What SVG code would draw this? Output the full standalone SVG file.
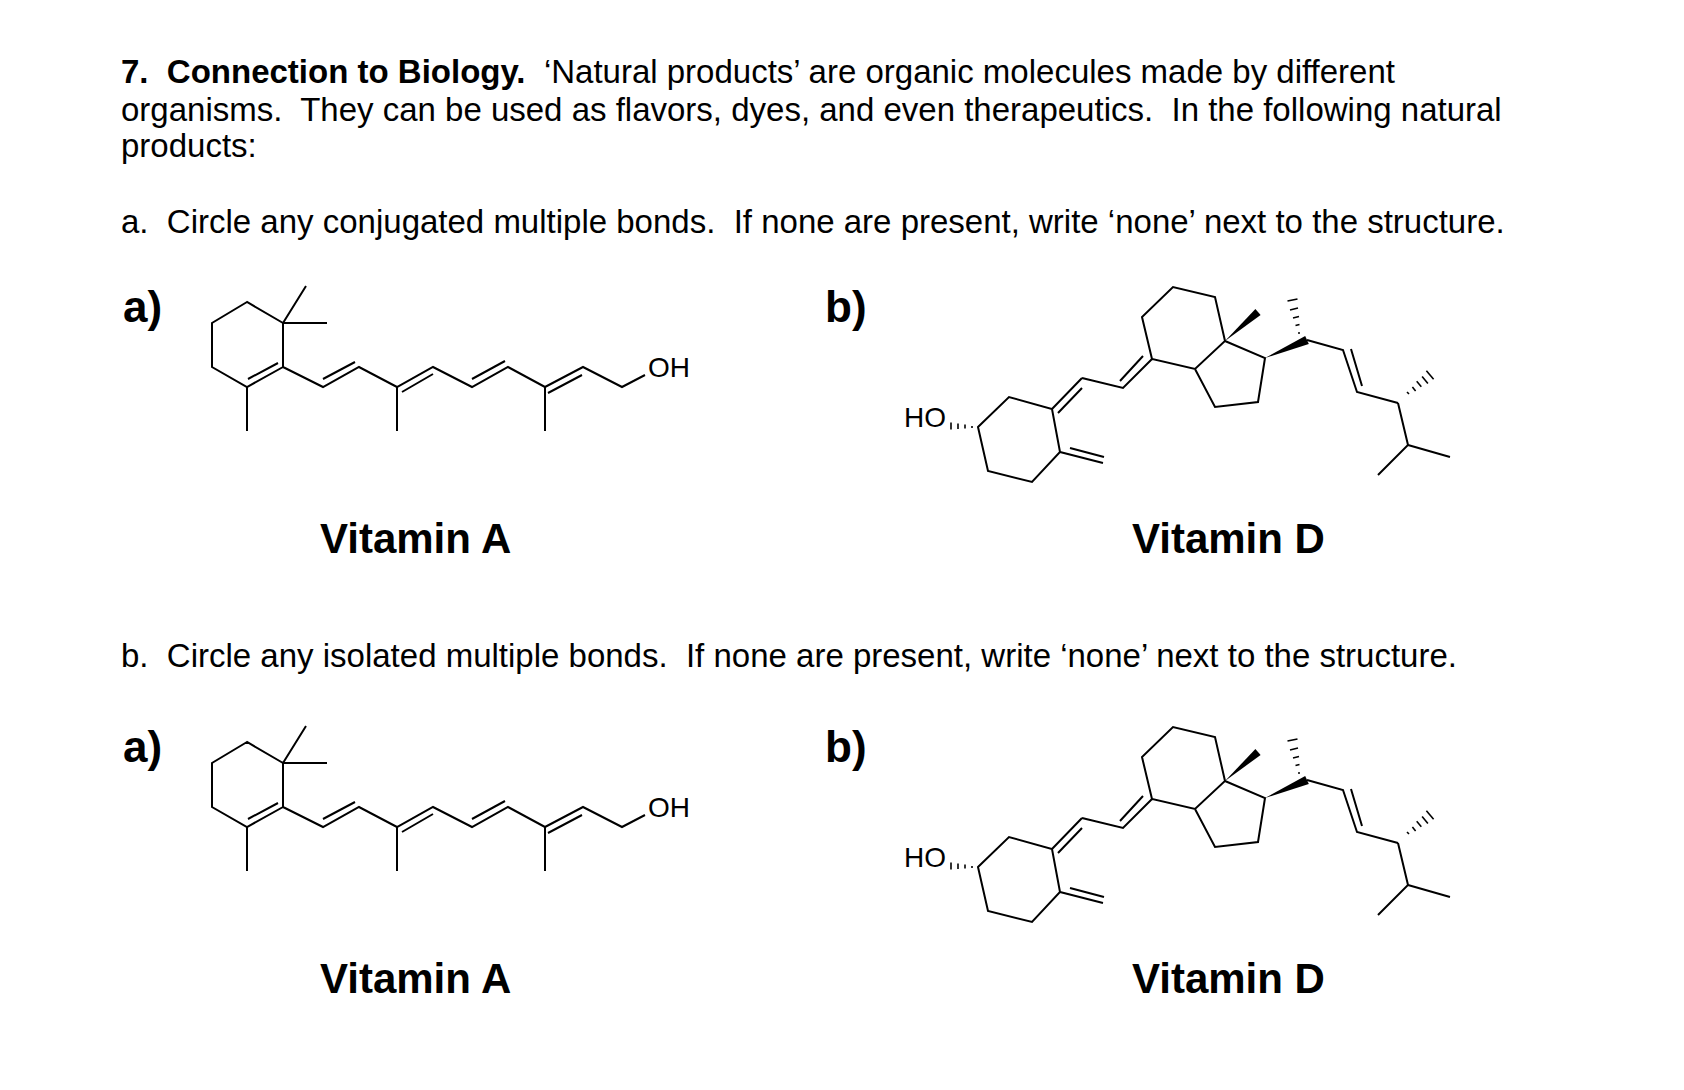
<svg xmlns="http://www.w3.org/2000/svg" xmlns:xlink="http://www.w3.org/1999/xlink" width="1684" height="1090" viewBox="0 0 1684 1090">
<style>
text{font-family:"Liberation Sans",Arial,sans-serif;fill:#000;white-space:pre}
.t{font-size:33px}
.lb{font-size:44px;font-weight:bold}
.nm{font-size:42px;font-weight:bold}
.at{font-size:28px}
.b{fill:none;stroke:#000;stroke-width:2;stroke-linejoin:miter;stroke-linecap:butt}
.h{stroke:#000;stroke-width:1.6}
</style>
<rect width="1684" height="1090" fill="#fff"/>
<g id="header">
<text class="t" x="121" y="83"><tspan font-weight="bold">7.  Connection to Biology.</tspan>  ‘Natural products’ are organic molecules made by different</text>
<text class="t" x="121" y="121">organisms.  They can be used as flavors, dyes, and even therapeutics.  In the following natural</text>
<text class="t" x="121" y="157">products:</text>
<text class="t" x="121" y="233">a.  Circle any conjugated multiple bonds.  If none are present, write ‘none’ next to the structure.</text>
<text class="t" x="121" y="667">b.  Circle any isolated multiple bonds.  If none are present, write ‘none’ next to the structure.</text>
</g>
<defs>
<g id="vitA">
<path class="b" d="M247,302 L212,323 L212,367 L247,387 L283,367 L283,323 Z M283,323 L306,286 M283,323 L327,323 M247,387 L247,431 M283,367 L323,387 L359,367 L397,387 L433,367 L472,387 L508,367 L545,387 L583,367 L622,387 L645,375 M397,387 L397,431 M545,387 L545,431 M248,379 L278,363 M323,379 L355,362 M402,392 L433,374 M472,379 L505,361 M548,393 L582,375"/>
<text class="at" x="648" y="377">OH</text>
</g>
<g id="vitD">
<path class="b" d="M978,427 L1009,397 L1052,409 L1060,452 L1032,482 L988,471 Z M1060,452 L1103,463 M1070,448 L1104,457 M1052,409 L1082,378 M1058,413 L1082,388 M1082,378 L1123,388 L1152,359 M1120,381 L1143,356 M1152,359 L1142,317 L1173,287 L1215,297 L1225,341 L1195,369 Z M1225,341 L1265,358 L1258,402 L1215,407 L1195,369 M1307,340 L1343,350 L1357,392 L1398,403 M1351,349 L1362,386 M1398,403 L1408,445 L1378,475 M1408,445 L1450,457"/>
<polygon points="1225,341 1255.4,309 1260.6,315" fill="#000"/>
<polygon points="1265,358 1305.2,335.9 1308.8,344.1" fill="#000"/>
<g class="h">
<line x1="1298" y1="333" x2="1300" y2="333"/>
<line x1="1295.5" y1="325.5" x2="1299.5" y2="324.5"/>
<line x1="1293" y1="318" x2="1299" y2="316.5"/>
<line x1="1290" y1="310" x2="1298" y2="308"/>
<line x1="1287.5" y1="301" x2="1297.5" y2="299"/>
<line x1="1407" y1="392" x2="1409" y2="394"/>
<line x1="1412.4" y1="387.1" x2="1415.6" y2="390.9"/>
<line x1="1416.7" y1="381.3" x2="1421.3" y2="386.7"/>
<line x1="1422.1" y1="376.6" x2="1427.9" y2="383.4"/>
<line x1="1426.4" y1="370.8" x2="1433.6" y2="379.2"/>
<line x1="972" y1="426" x2="972" y2="428"/>
<line x1="965" y1="424.5" x2="965" y2="428.5"/>
<line x1="958" y1="423.5" x2="958" y2="429"/>
<line x1="951" y1="422.5" x2="951" y2="429.5"/>
</g>
<text class="at" x="904" y="427">HO</text>
</g>
</defs>
<g id="top-a">
<text class="lb" x="123" y="322">a)</text>
<use xlink:href="#vitA"/>
<text class="nm" x="320" y="553">Vitamin A</text>
</g>
<g id="top-b">
<text class="lb" x="825" y="322">b)</text>
<use xlink:href="#vitD"/>
<text class="nm" x="1132" y="553">Vitamin D</text>
</g>
<g id="bottom-a" transform="translate(0,440)">
<text class="lb" x="123" y="322">a)</text>
<use xlink:href="#vitA"/>
<text class="nm" x="320" y="553">Vitamin A</text>
</g>
<g id="bottom-b" transform="translate(0,440)">
<text class="lb" x="825" y="322">b)</text>
<use xlink:href="#vitD"/>
<text class="nm" x="1132" y="553">Vitamin D</text>
</g>
<g id="connectors"></g>
</svg>
